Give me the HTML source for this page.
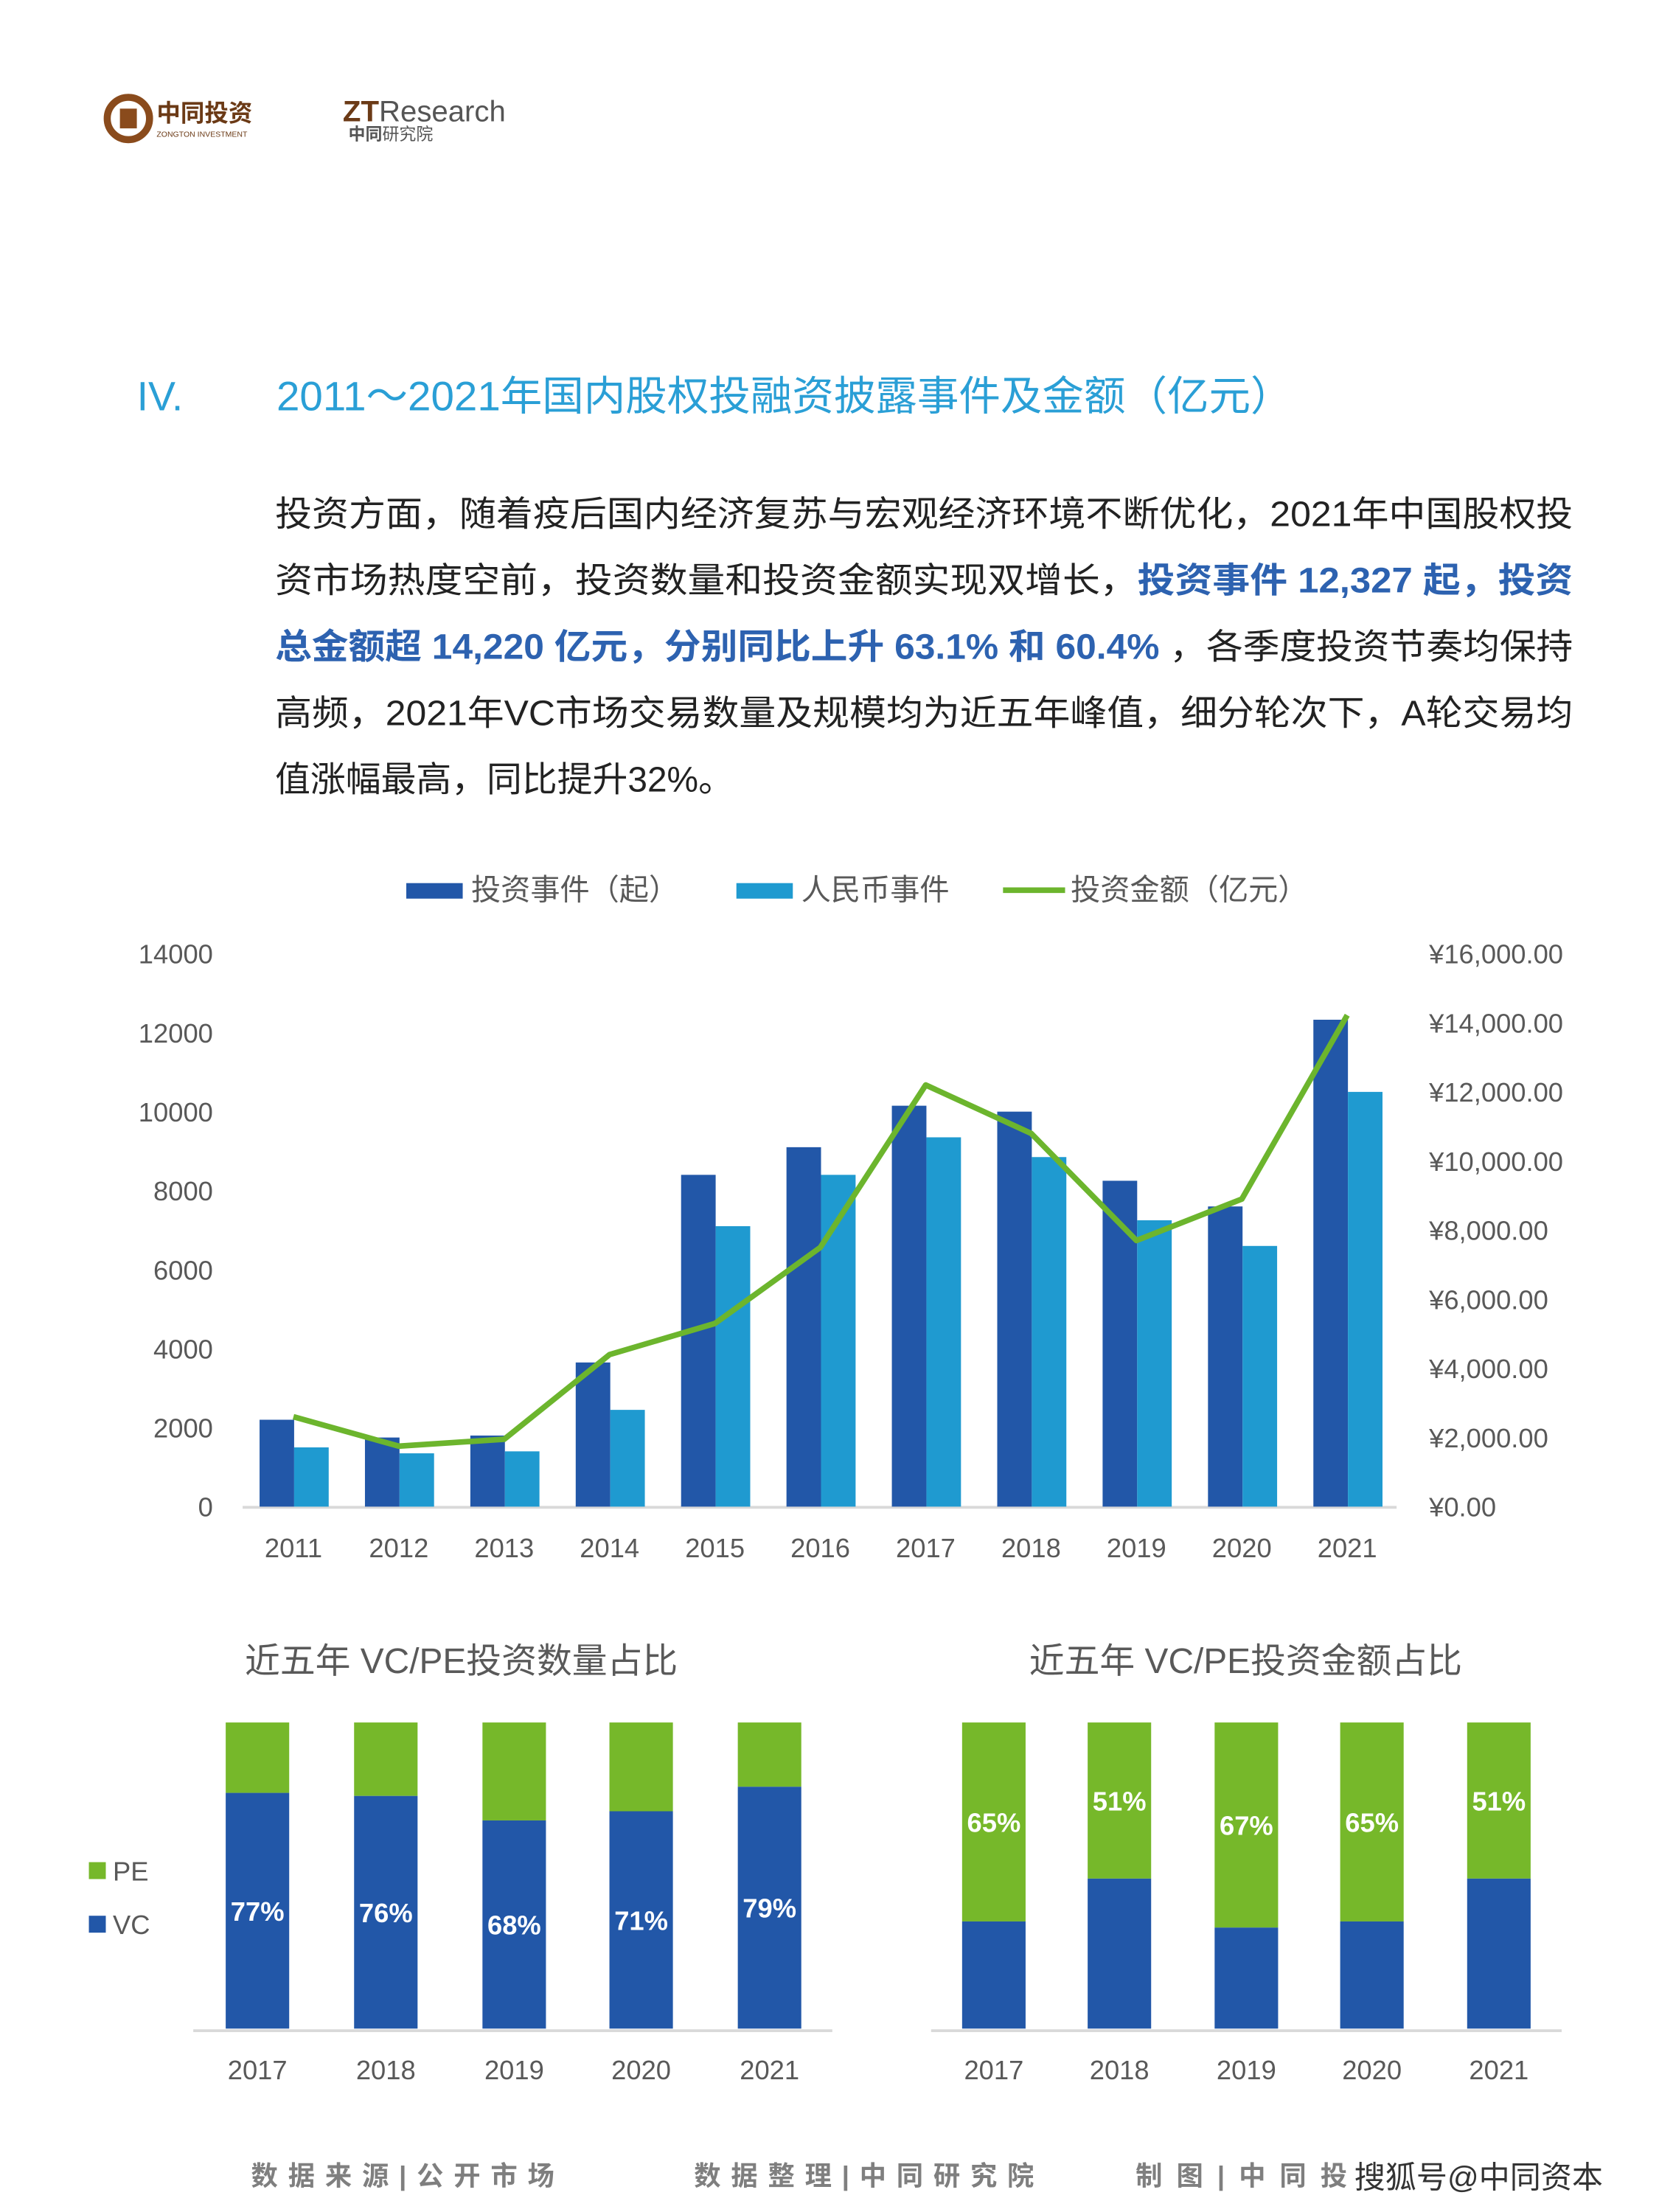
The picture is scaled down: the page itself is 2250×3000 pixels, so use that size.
<!DOCTYPE html>
<html><head><meta charset="utf-8"><style>
html,body{margin:0;padding:0;background:#fff;}
svg{display:block;}
text{font-family:"Liberation Sans","Noto Sans CJK SC",sans-serif;}
</style></head><body>
<svg width="2250" height="3000" viewBox="0 0 1176 1568" xmlns="http://www.w3.org/2000/svg">
<rect width="1176" height="1568" fill="#fff"/>
<!-- logos -->
<circle cx="91" cy="84" r="15" fill="none" stroke="#8a4b1c" stroke-width="5"/>
<rect x="85" y="77" width="12" height="14" fill="#8a4b1c"/>
<text x="111" y="86" font-size="17" font-weight="bold" fill="#6b3a16">中同投资</text>
<text x="111" y="97" font-size="5.5" fill="#6b3a16">ZONGTON INVESTMENT</text>
<text x="243" y="86" font-size="21" fill="#555"><tspan font-weight="bold" fill="#6b3a16">ZT</tspan>Research</text>
<text x="247" y="99" font-size="12" fill="#555"><tspan font-weight="bold">中同</tspan>研究院</text>
<!-- heading -->
<text x="97" y="291" font-size="29" fill="#2a9fd6">IV.</text>
<text x="196" y="291" font-size="29" fill="#2a9fd6" textLength="720" lengthAdjust="spacingAndGlyphs">2011～2021年国内股权投融资披露事件及金额（亿元）</text>
<!-- paragraph -->
<g font-size="25" fill="#222">
<text x="195" y="373" textLength="920" lengthAdjust="spacingAndGlyphs">投资方面，随着疫后国内经济复苏与宏观经济环境不断优化，2021年中国股权投</text>
<text x="195" y="420" textLength="920" lengthAdjust="spacingAndGlyphs">资市场热度空前，投资数量和投资金额实现双增长，<tspan font-weight="bold" fill="#2d62b0">投资事件 12,327 起，投资</tspan></text>
<text x="195" y="467" textLength="920" lengthAdjust="spacingAndGlyphs"><tspan font-weight="bold" fill="#2d62b0">总金额超 14,220 亿元，分别同比上升 63.1% 和 60.4%</tspan> ，各季度投资节奏均保持</text>
<text x="195" y="514" textLength="920" lengthAdjust="spacingAndGlyphs">高频，2021年VC市场交易数量及规模均为近五年峰值，细分轮次下，A轮交易均</text>
<text x="195" y="561">值涨幅最高，同比提升32%。</text>
</g>
<!-- legend -->
<g font-size="21" fill="#595959">
<rect x="288" y="626" width="40" height="11" fill="#2257a8"/><text x="334" y="638">投资事件（起）</text>
<rect x="522" y="626" width="40" height="11" fill="#1f9ad0"/><text x="568" y="638">人民币事件</text>
<line x1="711" y1="631" x2="755" y2="631" stroke="#6cb52d" stroke-width="4"/><text x="759" y="638">投资金额（亿元）</text>
</g>
<!-- axes labels -->
<g font-size="19" fill="#595959" text-anchor="end">
<text x="151" y="1075">0</text><text x="151" y="1019">2000</text><text x="151" y="963">4000</text><text x="151" y="907">6000</text><text x="151" y="851">8000</text><text x="151" y="795">10000</text><text x="151" y="739">12000</text><text x="151" y="683">14000</text>
</g>
<g font-size="19" fill="#595959">
<text x="1013" y="1075">¥0.00</text><text x="1013" y="1026">¥2,000.00</text><text x="1013" y="977">¥4,000.00</text><text x="1013" y="928">¥6,000.00</text><text x="1013" y="879">¥8,000.00</text><text x="1013" y="830">¥10,000.00</text><text x="1013" y="781">¥12,000.00</text><text x="1013" y="732">¥14,000.00</text><text x="1013" y="683">¥16,000.00</text>
</g>
<line x1="172" y1="1068.5" x2="990" y2="1068.5" stroke="#d9d9d9" stroke-width="2"/>
<g id="bars"></g>
<g font-size="19" fill="#595959" text-anchor="middle" id="xl"></g>
<polyline id="ln" fill="none" stroke="#6cb52d" stroke-width="4" stroke-linejoin="round"/>
<!-- bottom titles -->
<text x="327" y="1186" font-size="25" fill="#595959" text-anchor="middle">近五年 VC/PE投资数量占比</text>
<text x="883" y="1186" font-size="25" fill="#595959" text-anchor="middle">近五年 VC/PE投资金额占比</text>
<g id="b2"></g>
<line x1="137" y1="1439.5" x2="590" y2="1439.5" stroke="#d9d9d9" stroke-width="2"/>
<line x1="660" y1="1439.5" x2="1107" y2="1439.5" stroke="#d9d9d9" stroke-width="2"/>
<rect x="63" y="1320" width="12" height="12" fill="#76b82a"/><text x="80" y="1333" font-size="19" fill="#595959">PE</text>
<rect x="63" y="1358" width="12" height="12" fill="#2257a8"/><text x="80" y="1371" font-size="19" fill="#595959">VC</text>
<!-- footer -->
<g font-size="19" font-weight="bold" fill="#7f7f7f">
<text x="178" y="1549" textLength="215">数 据 来 源 | 公 开 市 场</text>
<text x="492" y="1549" textLength="241">数 据 整 理 | 中 同 研 究 院</text>
<text x="805" y="1549" textLength="150">制 图 | 中 同 投</text>
</g>
<text x="960" y="1551" font-size="22" fill="#333">搜狐号@中同资本</text>
</svg>
<script>
var ns="http://www.w3.org/2000/svg";
function el(p,t,a,tx){var e=document.createElementNS(ns,t);for(var k in a)e.setAttribute(k,a[k]);if(tx)e.textContent=tx;document.getElementById(p).appendChild(e);}
var d=[2200,1750,1800,3650,8400,9100,10150,10000,8250,7600,12327],l=[1500,1350,1400,2450,7100,8400,9350,8850,7250,6600,10500],m=[2600,1750,1950,4400,5300,7500,12200,10800,7700,8900,14220];
var y0=1068,pts=[];
for(var i=0;i<11;i++){var c=208+74.7*i;
el("bars","rect",{x:c-24,y:y0-d[i]*0.028,width:24.5,height:d[i]*0.028,fill:"#2257a8"});
el("bars","rect",{x:c+0.5,y:y0-l[i]*0.028,width:24.5,height:l[i]*0.028,fill:"#1f9ad0"});
el("xl","text",{x:c,y:1104},String(2011+i));
pts.push(c+","+(y0-m[i]*0.0245));}
document.getElementById("ln").setAttribute("points",pts.join(" "));
var vc=[77,76,68,71,79],pe=[65,51,67,65,51],lx=[160,251,342,432,523],rx=[682,771,861,950,1040];
for(var j=0;j<5;j++){var t=1438-217*vc[j]/100;
el("b2","rect",{x:lx[j],y:1221,width:45,height:t-1221,fill:"#76b82a"});
el("b2","rect",{x:lx[j],y:t,width:45,height:1438-t,fill:"#2257a8"});
el("b2","text",{x:lx[j]+22.5,y:(t+1438)/2+7,"font-size":19,"font-weight":"bold",fill:"#fff","text-anchor":"middle"},vc[j]+"%");
el("b2","text",{x:lx[j]+22.5,y:1474,"font-size":19,fill:"#595959","text-anchor":"middle"},String(2017+j));
var u=1221+217*pe[j]/100;
el("b2","rect",{x:rx[j],y:1221,width:45,height:u-1221,fill:"#76b82a"});
el("b2","rect",{x:rx[j],y:u,width:45,height:1438-u,fill:"#2257a8"});
el("b2","text",{x:rx[j]+22.5,y:(u+1221)/2+7,"font-size":19,"font-weight":"bold",fill:"#fff","text-anchor":"middle"},pe[j]+"%");
el("b2","text",{x:rx[j]+22.5,y:1474,"font-size":19,fill:"#595959","text-anchor":"middle"},String(2017+j));}
</script>
</body></html>
